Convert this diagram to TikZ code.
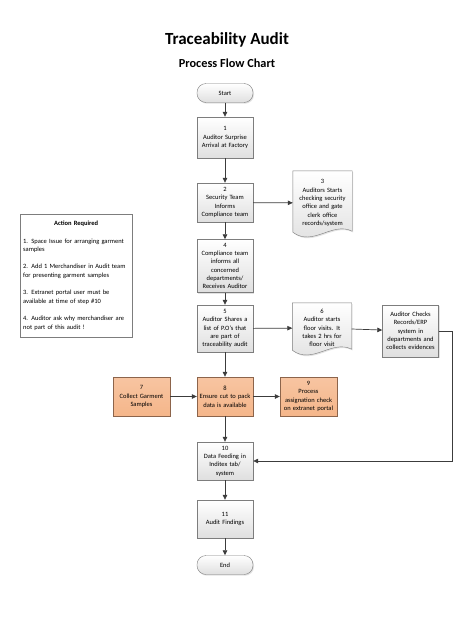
\documentclass[tikz,border=0pt]{standalone}
\usepackage{fontspec}
\setmainfont{Carlito}
\usetikzlibrary{arrows.meta,shadows,backgrounds}
\hyphenpenalty=10000
\exhyphenpenalty=10000

\definecolor{boxline}{RGB}{125,125,125}
\definecolor{boxorange}{RGB}{245,182,138}
\definecolor{orangeline}{RGB}{140,100,75}
\definecolor{flowline}{RGB}{60,60,60}

\tikzset{
 stepbox/.style={draw=boxline, top color=white, bottom color=gray!25, minimum width=56pt, text width=54pt, align=center, inner sep=1pt, font=\fontsize{6.5}{8.3}\selectfont, drop shadow={shadow xshift=1pt,shadow yshift=-1.2pt,fill=gray!45}},
 orangebox/.style={stepbox, draw=orangeline, top color=boxorange!80, bottom color=boxorange, minimum width=57pt, minimum height=39pt},
 termbox/.style={stepbox, rounded corners=9pt, minimum height=19pt},
 doctext/.style={text width=56pt, minimum width=59pt, align=center, inner sep=1pt, font=\fontsize{6.5}{8.3}\selectfont},
 flow/.style={flowline, line width=0.7pt, -{Triangle[length=5pt,width=4.5pt]}}
}

\newcommand{\docshape}[1]{%
 \draw[draw=boxline, top color=white, bottom color=gray!25, drop shadow={shadow xshift=1pt,shadow yshift=-1.2pt,fill=gray!45}]
  (#1.north west) -- (#1.north east) -- ([yshift=4pt]#1.south east)
  .. controls ([xshift=-20pt,yshift=14pt]#1.south east) and ([xshift=20pt,yshift=-12pt]#1.south west)
  .. ([yshift=3pt]#1.south west) -- cycle;}

\begin{document}
\begin{tikzpicture}[x=1pt,y=-1pt]
 \useasboundingbox (0,0) rectangle (474,632);

 \node (title) at (227,40) {\fontsize{17}{20}\selectfont\bfseries Traceability Audit};
 \node (subtitle) at (227,63) {\fontsize{12.3}{15}\selectfont\bfseries Process Flow Chart};

 % main column
 \node[termbox] (start) at (225,93) {Start};
 \node[stepbox, minimum height=41pt] (s1) at (225,137.5) {1\\Auditor Surprise\\Arrival at Factory};
 \node[stepbox, minimum height=39pt] (s2) at (225,202.5) {2\\Security Team\\Informs\\Compliance team};
 \node[stepbox, minimum height=53pt] (s4) at (225,266) {4\\Compliance team\\informs all\\concerned\\departments/\\Receives Auditor};
 \node[stepbox, minimum height=47pt] (s5) at (225,328.5) {5\\Auditor Shares a\\list of P.O's that\\are part of\\traceability audit};
 \node[orangebox, minimum width=56pt] (s8) at (225,396.5) {8\\Ensure cut to pack\\data is available};
 \node[stepbox, minimum height=38pt] (s10) at (225,461) {10\\Data Feeding in\\Inditex tab/\\system};
 \node[stepbox, minimum height=38pt] (s11) at (225,519) {11\\Audit Findings};
 \node[termbox] (stop) at (225,565) {End};

 % side boxes
 \node[doctext, minimum height=64pt] (s3) at (322.5,203) {3\\Auditors Starts\\checking security\\office and gate\\clerk office\\records/system};
 \node[doctext, minimum height=50pt] (s6) at (322,328) {6\\Auditor starts\\floor visits. It\\takes 2 hrs for\\floor visit};
 \begin{scope}[on background layer]
  \fill[white] (0,0) rectangle (474,632);
  \docshape{s3}
  \docshape{s6}
 \end{scope}
 \node[stepbox, minimum width=55pt, minimum height=52pt] (chk) at (410.5,331) {Auditor Checks\\Records/ERP\\system in\\departments and\\collects evidences};
 \node[orangebox] (s7) at (141.5,396.5) {7\\Collect Garment\\Samples};
 \node[orangebox] (s9) at (308.5,396.5) {9\\Process\\assignation check\\on extranet portal};

 % notes
 \node[draw=boxline, fill=white, anchor=north west, minimum width=112pt, minimum height=123pt, text width=106pt, align=left, inner sep=3pt, font=\fontsize{6.5}{8.6}\selectfont, drop shadow={shadow xshift=1pt,shadow yshift=-1.2pt,fill=gray!35}] (act) at (20,214) {\makebox[\linewidth]{\bfseries Action Required}\\[8.6pt]
 1. Space Issue for arranging garment samples\\[8.6pt]
 2. Add 1 Merchandiser in Audit team for presenting garment samples\\[8.6pt]
 3. Extranet portal user must be available at time of step \#10\\[8.6pt]
 4. Auditor ask why merchandiser are not part of this audit !};

 % connectors
 \draw[flow] (start) -- (s1);
 \draw[flow] (s1) -- (s2);
 \draw[flow] (s2) -- (s3);
 \draw[flow] (s2) -- (s4);
 \draw[flow] (s4) -- (s5);
 \draw[flow] (s5) -- (s6);
 \draw[flow] (s6) -- (chk);
 \draw[flow] (s5) -- (s8);
 \draw[flow] (s7) -- (s8);
 \draw[flow] (s8) -- (s9);
 \draw[flow] (s8) -- (s10);
 \draw[flow] (chk.east) -- ++(14,0) |- (s10.east);
 \draw[flow] (s10) -- (s11);
 \draw[flow] (s11) -- (stop);
\end{tikzpicture}
\end{document}
